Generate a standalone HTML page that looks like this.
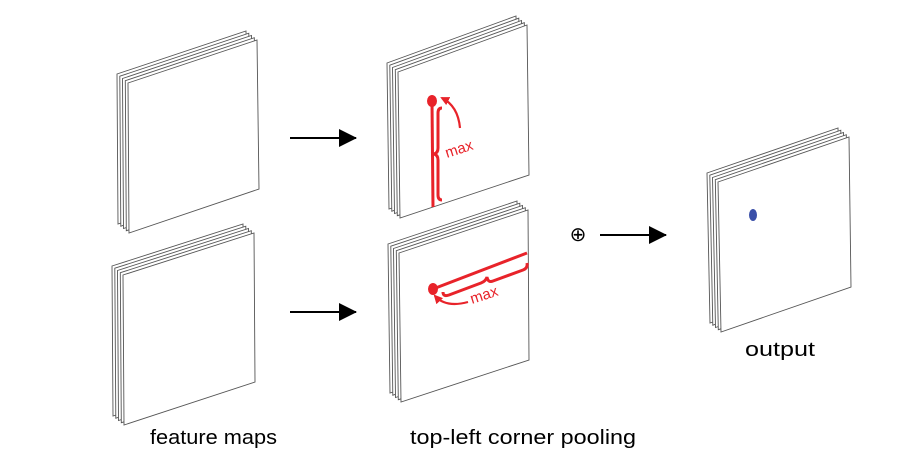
<!DOCTYPE html>
<html><head><meta charset="utf-8"><style>
html,body{margin:0;padding:0;background:#fff;width:899px;height:458px;overflow:hidden}
text{font-family:"Liberation Sans",sans-serif}
</style></head><body>
<svg width="899" height="458" viewBox="0 0 899 458" xmlns="http://www.w3.org/2000/svg">
<defs>
<marker id="ah" markerWidth="18" markerHeight="18" refX="17" refY="9" orient="auto" markerUnits="userSpaceOnUse">
<path d="M0,0 L18,9 L0,18 z" fill="#000"/></marker>
<marker id="rh" markerWidth="9" markerHeight="9" refX="7" refY="4.5" orient="auto" markerUnits="userSpaceOnUse">
<path d="M0,0 L9,4.5 L0,9 z" fill="#e8232a"/></marker>
</defs>
<g fill="#fff" stroke="#555" stroke-width="0.9">
<polygon transform="translate(-11,-9)" points="128,83 257,40 259,189 129,233"/>
<polygon transform="translate(-8.2,-6.8)" points="128,83 257,40 259,189 129,233"/>
<polygon transform="translate(-5.5,-4.5)" points="128,83 257,40 259,189 129,233"/>
<polygon transform="translate(-2.7,-2.3)" points="128,83 257,40 259,189 129,233"/>
<polygon points="128,83 257,40 259,189 129,233"/>

<polygon transform="translate(-11,-9)" points="123,275 254,233 255,382 124,425"/>
<polygon transform="translate(-8.2,-6.8)" points="123,275 254,233 255,382 124,425"/>
<polygon transform="translate(-5.5,-4.5)" points="123,275 254,233 255,382 124,425"/>
<polygon transform="translate(-2.7,-2.3)" points="123,275 254,233 255,382 124,425"/>
<polygon points="123,275 254,233 255,382 124,425"/>

<polygon transform="translate(-11,-9)" points="398,72 527,25 529,175 400,218"/>
<polygon transform="translate(-8.2,-6.8)" points="398,72 527,25 529,175 400,218"/>
<polygon transform="translate(-5.5,-4.5)" points="398,72 527,25 529,175 400,218"/>
<polygon transform="translate(-2.7,-2.3)" points="398,72 527,25 529,175 400,218"/>
<polygon points="398,72 527,25 529,175 400,218"/>

<polygon transform="translate(-11,-9)" points="399,253 528,210 529,360 401,402"/>
<polygon transform="translate(-8.2,-6.8)" points="399,253 528,210 529,360 401,402"/>
<polygon transform="translate(-5.5,-4.5)" points="399,253 528,210 529,360 401,402"/>
<polygon transform="translate(-2.7,-2.3)" points="399,253 528,210 529,360 401,402"/>
<polygon points="399,253 528,210 529,360 401,402"/>

<polygon transform="translate(-11,-9)" points="718,182 849,137 851,287 721,332"/>
<polygon transform="translate(-8.2,-6.8)" points="718,182 849,137 851,287 721,332"/>
<polygon transform="translate(-5.5,-4.5)" points="718,182 849,137 851,287 721,332"/>
<polygon transform="translate(-2.7,-2.3)" points="718,182 849,137 851,287 721,332"/>
<polygon points="718,182 849,137 851,287 721,332"/>
</g>

<g stroke="#e8232a" fill="none" stroke-width="3">
<line x1="432" y1="102" x2="433" y2="207"/>
<path d="M442,108 q-4,0 -4,5 v35 q0,5 -4,6 q4,1 4,6 v35 q0,5 4,5" stroke-width="3"/>
<path d="M460,128 q-2,-22 -18,-30" stroke-width="2.2" marker-end="url(#rh)"/>
<line x1="433" y1="289" x2="527" y2="253"/>
<path d="M443,292 q0,5 6,3 l32,-12 q5,-2 6,-6 q1,6 6,4 l30,-11 q5,-2 4,-7" stroke-width="3"/>
<path d="M468,302 q-22,6 -33,-6" stroke-width="2.2" marker-end="url(#rh)"/>
</g>
<ellipse cx="432" cy="101" rx="5" ry="6" fill="#e8232a"/>
<ellipse cx="433" cy="289" rx="5" ry="6" fill="#e8232a"/>
<text x="447" y="158" font-size="15" fill="#e8232a" transform="rotate(-18 447 158)">max</text>
<text x="472" y="304" font-size="15" fill="#e8232a" transform="rotate(-18 472 304)">max</text>

<ellipse cx="753" cy="215" rx="4" ry="6" fill="#3a4fa8"/>

<g stroke="#000" stroke-width="2">
<line x1="290" y1="138" x2="356" y2="138" marker-end="url(#ah)"/>
<line x1="290" y1="312" x2="356" y2="312" marker-end="url(#ah)"/>
<line x1="600" y1="235" x2="666" y2="235" marker-end="url(#ah)"/>
</g>
<text x="578" y="241" font-size="20" text-anchor="middle" font-family="DejaVu Sans">⊕</text>

<text x="150" y="444" font-size="20" textLength="127" lengthAdjust="spacingAndGlyphs">feature maps</text>
<text x="410" y="444" font-size="20" textLength="226" lengthAdjust="spacingAndGlyphs">top-left corner pooling</text>
<text x="745" y="356" font-size="20" textLength="70" lengthAdjust="spacingAndGlyphs">output</text>
</svg>
</body></html>
